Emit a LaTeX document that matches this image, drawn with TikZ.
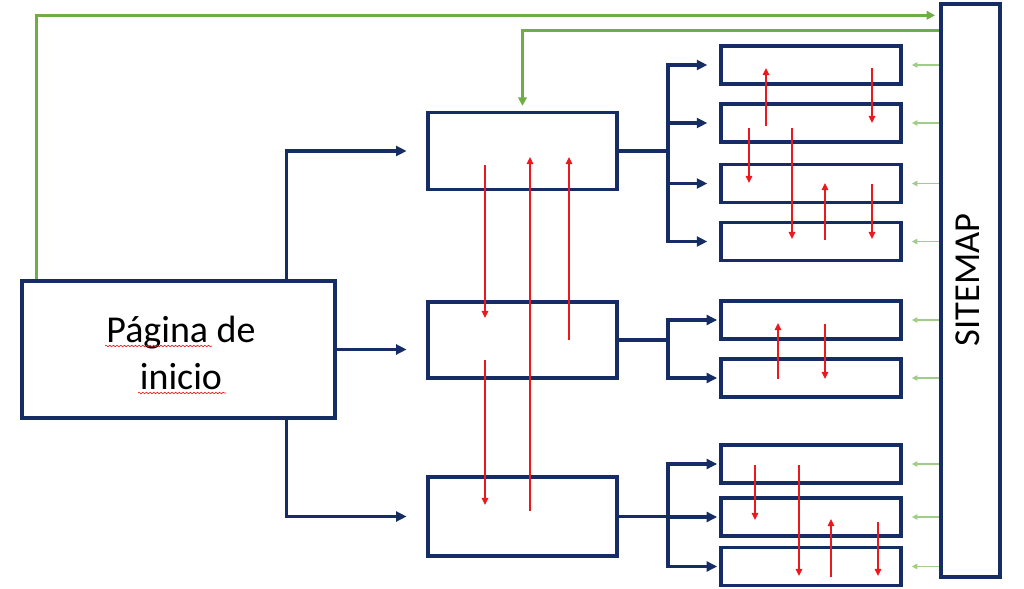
\documentclass[tikz,border=0pt]{standalone}
\usepackage{fontspec}
\setmainfont{Carlito}
\usetikzlibrary{arrows.meta,calc,decorations.pathmorphing}
\definecolor{navy}{RGB}{22,44,100}
\definecolor{grn}{RGB}{112,173,71}
\definecolor{lgrn}{RGB}{160,205,135}
\definecolor{rd}{RGB}{235,25,30}
\tikzset{
  bx/.style={draw=navy, line width=2.4pt, rectangle, inner sep=0pt},
  wpx/.style={minimum width=#1*0.025cm},
  hpx/.style={minimum height=#1*0.025cm},
  bline/.style={draw=navy, line width=2.3pt},
  btip/.tip={Triangle[length=7.5pt,width=7pt]},
  barr/.style={bline, -btip},
  gline/.style={draw=grn, line width=2.1pt},
  garr/.style={gline, -{Triangle[length=6pt,width=6pt]}},
  sgarr/.style={draw=lgrn, line width=0.8pt, -{Triangle[length=4pt,width=4pt]}},
  rarr/.style={draw=rd, line width=1.3pt, -{Triangle[length=5pt,width=4.5pt]}},
  wavy/.style={draw=rd, line width=0.45pt, decorate, decoration={snake, amplitude=0.55pt, segment length=2.6pt}}
}
\begin{document}
\begin{tikzpicture}[x=0.025cm, y=-0.025cm]
\useasboundingbox (0,0) rectangle (1024,589);

% main box
\node[bx, wpx=313, hpx=137] (main) at (178.5,349.5) {};
\node[font=\fontsize{27}{33.5}\selectfont, align=center] (maintext) at (181,353) {Página de\\inicio};
\draw[wavy] (105,346) -- (212,346);
\draw[wavy] (138,393) -- (226,393);

% level 2 boxes
\node[bx, wpx=189, hpx=77] (l2a) at (522.5,151) {};
\node[bx, wpx=189, hpx=76] (l2b) at (522.5,340) {};
\node[bx, wpx=189, hpx=79] (l2c) at (522.5,516.5) {};

% level 3 boxes
\foreach \n/\y in {a/65, b/123, c/183.5, d/241.5, e/320, f/378, g/464, h/517, i/566.5}
  \node[bx, wpx=180, hpx=38] (l3\n) at (811,\y) {};

% sitemap
\node[bx, wpx=59, hpx=573] (sitemap) at (970.5,290.5) {};
\node[font=\fontsize{26}{30}\selectfont, rotate=90] (sitemaptext) at (968,280) {SITEMAP};

% blue connectors from main
\draw[barr, shorten >=14pt] ($(main.north east)+(-50,0)$) |- (l2a.west);
\draw[barr, shorten >=14pt] (main.east) -- (main.east -| l2b.west);
\draw[barr, shorten >=14pt] ($(main.south east)+(-50,0)$) |- (l2c.west);

% trunks
\coordinate (t) at (668,0);
% group 1
\draw[bline] (l2a.east) -- (l2a.east -| t);
\draw[bline, btip-btip, shorten <=8.5pt, shorten >=8.5pt]
  (l3a.west) -- (t |- l3a.west) -- (t |- l3d.west) -- (l3d.west);
\draw[barr, shorten >=8.5pt] (t |- l3b.west) -- (l3b.west);
\draw[barr, shorten >=8.5pt] (t |- l3c.west) -- (l3c.west);
% group 2
\draw[bline] (l2b.east) -- (l2b.east -| t);
\draw[bline, btip-btip, shorten <=1.5pt, shorten >=1.5pt]
  (l3e.west) -- (t |- l3e.west) -- (t |- l3f.west) -- (l3f.west);
% group 3
\draw[bline] (l2c.east) -- (l2c.east -| t);
\draw[bline, btip-btip, shorten <=1.5pt, shorten >=1.5pt]
  (l3g.west) -- (t |- l3g.west) -- (t |- l3i.west) -- (l3i.west);
\draw[barr, shorten >=1.5pt] (t |- l3h.west) -- (l3h.west);

% green connectors
\draw[garr, shorten >=3pt] ($(main.north west)+(16,0)$) |- ($(sitemap.north west)+(0,13)$);
\draw[garr, shorten >=3.5pt] ($(sitemap.north west)+(0,28)$) -| (l2a.north);
\foreach \n in {a,b,c,d,e,f,g,h,i}
  \draw[sgarr, shorten >=6.5pt] (sitemap.west |- l3\n.east) -- (l3\n.east);

% red arrows between level 2 boxes
\draw[rarr] (485,165) -- (485,318);
\draw[rarr] (530,511) -- (530,157);
\draw[rarr] (569,340) -- (569,157);
\draw[rarr] (485,360) -- (485,505);
% red arrows group 1
\draw[rarr] (766,126) -- (766,68);
\draw[rarr] (872,68) -- (872,123);
\draw[rarr] (749,128) -- (749,183);
\draw[rarr] (792,128) -- (792,239);
\draw[rarr] (825,240) -- (825,183);
\draw[rarr] (872,184) -- (872,239);
% group 2
\draw[rarr] (778,379) -- (778,323);
\draw[rarr] (825,324) -- (825,379);
% group 3
\draw[rarr] (755,465) -- (755,520);
\draw[rarr] (799,465) -- (799,576);
\draw[rarr] (831,577) -- (831,519);
\draw[rarr] (878,522) -- (878,576);
\end{tikzpicture}
\end{document}
